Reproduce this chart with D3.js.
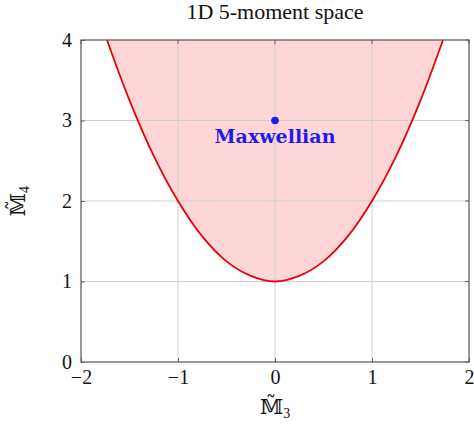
<!DOCTYPE html>
<html>
<head>
<meta charset="utf-8">
<script src="https://cdn.jsdelivr.net/npm/d3@7"></script>
<style>
  body { margin: 0; background: #fff; }
  text { font-family: "Liberation Serif", "DejaVu Serif", serif; }
</style>
</head>
<body>
<div id="container"></div>
<script>
const WIDTH = 474,
      HEIGHT = 425;

const margin = { top: 40, bottom: 63, right: 5, left: 81 };

const width = WIDTH - margin.left - margin.right,
      height = HEIGHT - margin.top - margin.bottom;

// boundary curve
const m3 = [-1.732, -1.5, -1.25, -1.0, -0.75, -0.5, -0.25, 0, 0.25, 0.5, 0.75, 1.0, 1.25, 1.5, 1.732];
const m4 = [4.0, 3.25, 2.56, 2.0, 1.56, 1.25, 1.07, 1.0, 1.07, 1.25, 1.56, 2.0, 2.56, 3.25, 4.0];

const pointX = [0], pointY = [3];
const pointLabel = ["Maxwellian"];

const xTicks = [-2, -1, 0, 1, 2];
const yTicks = [0, 1, 2, 3, 4];

const title = "1D 5-moment space";

const svg = d3.select('#container').append('svg')
    .attr("width", WIDTH).attr("height", HEIGHT);

const container = svg.append('g')
    .attr("transform", `translate(${margin.left}, ${margin.top})`);

const xScale = d3.scaleLinear().domain([-2, 2]).range([0, width]);
const yScale = d3.scaleLinear().domain([0, 4]).range([height, 0]);

const curve = m3.map((d, i) => [d, m4[i]]);

// filled region
const area = d3.area()
    .curve(d3.curveCatmullRom)
    .x(d => xScale(d[0]))
    .y0(yScale(4))
    .y1(d => yScale(d[1]));

container.append("path")
    .datum(curve)
    .attr("d", area)
    .attr("fill", "#ffd6d6");

// grid
container.selectAll(".gx").data(xTicks.slice(1, -1)).join("line")
    .attr("x1", d => xScale(d)).attr("x2", d => xScale(d))
    .attr("y1", 0).attr("y2", height)
    .attr("stroke", "#cfcfcf").attr("stroke-width", 1);

container.selectAll(".gy").data(yTicks.slice(1, -1)).join("line")
    .attr("x1", 0).attr("x2", width)
    .attr("y1", d => yScale(d)).attr("y2", d => yScale(d))
    .attr("stroke", "#cfcfcf").attr("stroke-width", 1);

// curve
const line = d3.line()
    .curve(d3.curveCatmullRom)
    .x(d => xScale(d[0])).y(d => yScale(d[1]));

container.append("path")
    .datum(curve)
    .attr("d", line)
    .attr("fill", "none")
    .attr("stroke", "#e8000b")
    .attr("stroke-width", 1.8);

// axes
const xAxis = d3.axisBottom(xScale).tickValues(xTicks).tickSize(-4).tickPadding(8)
    .tickFormat(d => d < 0 ? "\u2212" + Math.abs(d) : d);
const yAxis = d3.axisLeft(yScale).tickValues(yTicks).tickSize(-4).tickPadding(9)
    .tickFormat(d3.format("d"));

const gx = container.append("g")
    .attr("transform", `translate(0, ${height})`)
    .call(xAxis);
const gy = container.append("g").call(yAxis);

[gx, gy].forEach(g => {
    g.select(".domain").remove();
    g.selectAll("line").attr("stroke", "#666");
    g.selectAll("text").attr("font-size", 20).attr("fill", "#111")
        .style("font-family", "Liberation Serif, serif");
});

// top / right ticks
container.selectAll(".tt").data(xTicks).join("line")
    .attr("x1", d => xScale(d)).attr("x2", d => xScale(d))
    .attr("y1", 0).attr("y2", 4).attr("stroke", "#666");
container.selectAll(".tr").data(yTicks).join("line")
    .attr("x1", width).attr("x2", width - 4)
    .attr("y1", d => yScale(d)).attr("y2", d => yScale(d)).attr("stroke", "#666");

// frame
container.append("rect")
    .attr("width", width).attr("height", height)
    .attr("fill", "none").attr("stroke", "#555").attr("stroke-width", 1.2);

// Maxwellian point
container.selectAll(".pt").data(pointX).join("circle")
    .attr("cx", d => xScale(d)).attr("cy", (d, i) => yScale(pointY[i]))
    .attr("r", 3.8).attr("fill", "#1c1cf0");

container.selectAll(".pl").data(pointX).join("text")
    .attr("x", d => xScale(d)).attr("y", (d, i) => yScale(pointY[i]) + 22)
    .attr("text-anchor", "middle")
    .attr("font-size", 19).attr("font-weight", "bold")
    .attr("fill", "#1c1cf0")
    .style("font-family", "DejaVu Serif, serif")
    .text((d, i) => pointLabel[i]);

// title
svg.append("text")
    .attr("x", margin.left + width / 2).attr("y", 19)
    .attr("text-anchor", "middle")
    .attr("font-size", 22).attr("fill", "#111")
    .text(title);

// axis labels
const xl = svg.append("text")
    .attr("x", margin.left + width / 2).attr("y", 414)
    .attr("text-anchor", "middle").attr("fill", "#111")
    .attr("font-size", 21);
xl.append("tspan").text("\u{1D544}\u0303");
xl.append("tspan").attr("font-size", 14).attr("dy", 4).text("3");

const yl = svg.append("text")
    .attr("transform", `translate(25, ${margin.top + height / 2}) rotate(-90)`)
    .attr("text-anchor", "middle").attr("fill", "#111")
    .attr("font-size", 21);
yl.append("tspan").text("\u{1D544}\u0303");
yl.append("tspan").attr("font-size", 14).attr("dy", 4).text("4");
</script>
</body>
</html>
